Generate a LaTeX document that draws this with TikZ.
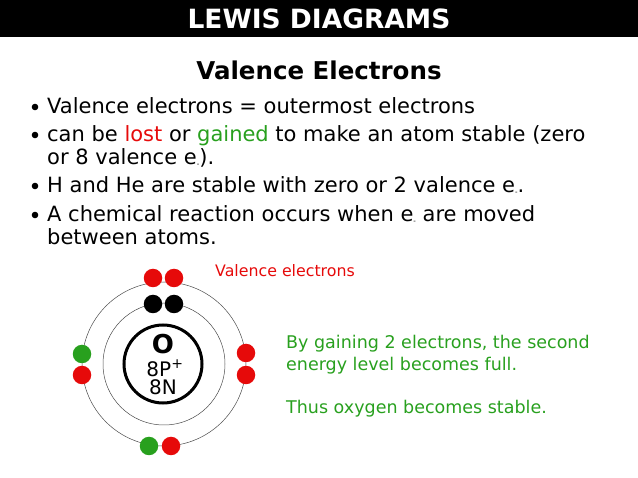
\documentclass[tikz,border=0pt]{standalone}
\usepackage{fontspec}
\setmainfont{DejaVu Sans}
\definecolor{gr}{RGB}{40,160,30}
\definecolor{rd}{RGB}{230,10,10}
\newcommand{\esub}{e\raisebox{-2pt}{\scriptsize -}}
\begin{document}
\begin{tikzpicture}[x=1pt,y=-1pt,
  body/.style={anchor=base west,font=\fontsize{21}{24}\selectfont,inner sep=0},
  el/.style={circle,minimum size=18.5pt,inner sep=0},
  orbit/.style={draw,line width=0.5pt,gray!60!black}]
\useasboundingbox (0,0) rectangle (638,478);
\fill[black] (0,0) rectangle (638,37);
\node[white,font=\bfseries\fontsize{26.5}{28}\selectfont] (title) at (319,19) {LEWIS DIAGRAMS};
\node[font=\bfseries\fontsize{24.5}{26}\selectfont] (sub) at (319,70) {Valence Electrons};
\foreach \y in {114,142,193,222}{\fill (35,\y-7) circle (3.3);}
\node[body] (b1) at (47,114) {Valence electrons = outermost electrons};
\node[body] (b2) at (47,142) {can be \textcolor{rd}{lost} or \textcolor{gr}{gained} to make an atom stable (zero};
\node[body] (b2b) at (47,165) {or 8 valence \esub).};
\node[body] (b3) at (47,193) {H and He are stable with zero or 2 valence \esub.};
\node[body] (b4) at (47,222) {A chemical reaction occurs when \esub{} are moved};
\node[body] (b4b) at (47,245) {between atoms.};
\node[rd,anchor=base west,inner sep=0,font=\fontsize{15.8}{18}\selectfont] (ve) at (215,277) {Valence electrons};
\draw[orbit] (164,364) circle (82);
\draw[orbit] (164,364) circle (61);
\draw[line width=3pt] (163,364) circle (39);
\node[font=\bfseries\fontsize{26}{26}\selectfont] (O) at (163,344) {O};
\node[font=\fontsize{20}{20}\selectfont] (P) at (165,368) {8P\textsuperscript{+}};
\node[font=\fontsize{20}{20}\selectfont] (N) at (163,387) {8N};
\node[el,fill=rd] (e1) at (153,278) {};
\node[el,fill=rd] (e2) at (174,278) {};
\node[el,fill=black] (e3) at (153,304) {};
\node[el,fill=black] (e4) at (174,304) {};
\node[el,fill=gr] (e5) at (82,354) {};
\node[el,fill=rd] (e6) at (82,375) {};
\node[el,fill=rd] (e7) at (246,353) {};
\node[el,fill=rd] (e8) at (246,375) {};
\node[el,fill=gr] (e9) at (149,446) {};
\node[el,fill=rd] (e10) at (171,446) {};
\node[gr,anchor=base west,inner sep=0,font=\fontsize{17.5}{22}\selectfont] (g1) at (286,349) {By gaining 2 electrons, the second};
\node[gr,anchor=base west,inner sep=0,font=\fontsize{17.5}{22}\selectfont] (g1b) at (286,371) {energy level becomes full.};
\node[gr,anchor=base west,inner sep=0,font=\fontsize{17.5}{22}\selectfont] (g2) at (286,414) {Thus oxygen becomes stable.};
\end{tikzpicture}
\end{document}
